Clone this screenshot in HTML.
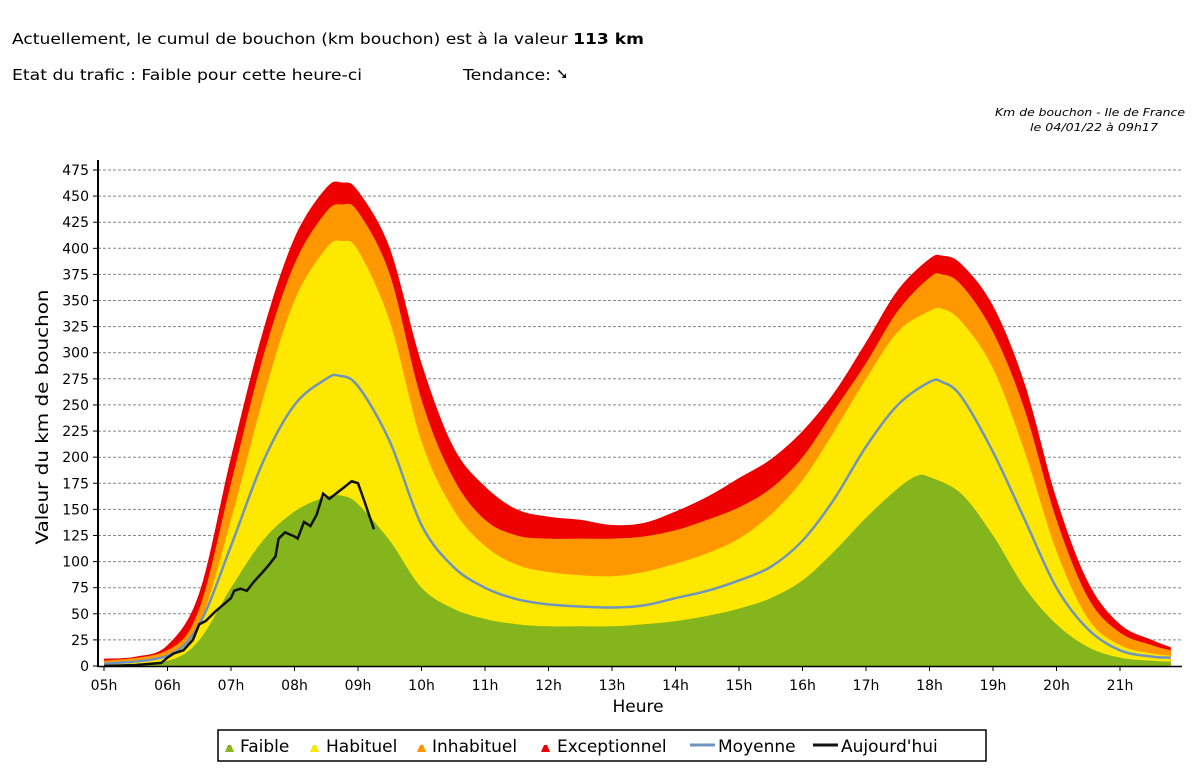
<!DOCTYPE html>
<html><head><meta charset="utf-8"><style>
html,body{margin:0;padding:0;background:#fff;}
svg{display:block;font-family:"DejaVu Sans","Liberation Sans",sans-serif;}
</style></head><body>
<svg id="s" width="1200" height="773" viewBox="0 0 1200 773" xmlns="http://www.w3.org/2000/svg">
<text x="12" y="44" font-size="15" textLength="632" lengthAdjust="spacingAndGlyphs">Actuellement, le cumul de bouchon (km bouchon) est à la valeur <tspan font-weight="bold">113 km</tspan></text>
<text x="12" y="80" font-size="15" textLength="350" lengthAdjust="spacingAndGlyphs">Etat du trafic : Faible pour cette heure-ci</text>
<text x="463" y="80" font-size="15" textLength="88" lengthAdjust="spacingAndGlyphs">Tendance:</text>
<text x="556" y="79" font-size="15" font-weight="bold">➘</text>
<text x="1185" y="116" font-size="11" font-style="italic" text-anchor="end" textLength="190" lengthAdjust="spacingAndGlyphs">Km de bouchon - Ile de France</text>
<text x="1158" y="131" font-size="11" font-style="italic" text-anchor="end" textLength="128" lengthAdjust="spacingAndGlyphs">le 04/01/22 à 09h17</text>
<g id="grid"></g>
<g id="series"></g>
<g id="axes"></g>
<text x="638" y="712" font-size="17" text-anchor="middle">Heure</text>
<text transform="translate(48,417) rotate(-90)" font-size="17" text-anchor="middle" textLength="255" lengthAdjust="spacingAndGlyphs">Valeur du  km de bouchon</text>
<rect x="218" y="730" width="768" height="31" fill="#fff" stroke="#000" stroke-width="1.5"/>
<g font-size="17">
<path d="M225 752 l3 -7 h3 l3 7z" fill="#84b51c"/><text x="240" y="752">Faible</text>
<path d="M310 752 l3 -7 h3 l3 7z" fill="#ffe800"/><text x="326" y="752">Habituel</text>
<path d="M417 752 l3 -7 h3 l3 7z" fill="#ff9800"/><text x="432" y="752">Inhabituel</text>
<path d="M541 752 l3 -7 h3 l3 7z" fill="#ee0000"/><text x="557" y="752">Exceptionnel</text>
<line x1="690" y1="745" x2="715" y2="745" stroke="#6f94bf" stroke-width="3"/><text x="718" y="752">Moyenne</text>
<line x1="813" y1="745" x2="838" y2="745" stroke="#111" stroke-width="3"/><text x="841" y="752">Aujourd'hui</text>
</g>
</svg>
<script>
var X=function(t){return 104+(t-5)*63.5;}, Y=function(v){return 666-v*1.0442;};
function P(s){return s.trim().split(/\s+/).map(function(p){var a=p.split(':');return [X(+a[0]),Y(+a[1])];});}
function smooth(pts){var d='M'+pts[0][0].toFixed(1)+' '+pts[0][1].toFixed(1);
for(var i=0;i<pts.length-1;i++){var p0=pts[Math.max(0,i-1)],p1=pts[i],p2=pts[i+1],p3=pts[Math.min(pts.length-1,i+2)];
var c1=[p1[0]+(p2[0]-p0[0])/6,p1[1]+(p2[1]-p0[1])/6],c2=[p2[0]-(p3[0]-p1[0])/6,p2[1]-(p3[1]-p1[1])/6];
d+=' C'+c1[0].toFixed(1)+' '+c1[1].toFixed(1)+' '+c2[0].toFixed(1)+' '+c2[1].toFixed(1)+' '+p2[0].toFixed(1)+' '+p2[1].toFixed(1);}return d;}
var red=P("5:7 5.5:9 6:20 6.5:70 7:200 7.5:320 8:410 8.5:458 8.75:463 9:455 9.5:400 10:290 10.5:210 11:172 11.5:150 12:143 12.5:140 13:135 13.5:137 14:148 14.5:162 15:180 15.5:198 16:225 16.5:262 17:310 17.5:360 18:390 18.2:393 18.5:385 19:345 19.5:270 20:160 20.5:80 21:40 21.5:25 21.8:18");
var ora=P("5:5 6:15 6.5:55 7:175 7.5:295 8:385 8.5:435 8.75:442 9:435 9.5:375 10:255 10.5:180 11:140 11.5:125 12:122 12.5:122 13:122 13.5:124 14:130 14.5:140 15:152 15.5:170 16:200 16.5:245 17:290 17.5:340 18:372 18.2:375 18.5:365 19:320 19.5:245 20:140 20.5:65 21:32 21.5:20 21.8:15");
var yel=P("5:3 6:10 6.5:40 7:140 7.5:255 8:350 8.5:400 8.75:407 9:398 9.5:330 10:215 10.5:150 11:115 11.5:97 12:90 12.5:87 13:86 13.5:90 14:98 14.5:108 15:122 15.5:145 16:178 16.5:225 17:275 17.5:320 18:340 18.2:342 18.5:330 19:285 19.5:205 20:110 20.5:45 21:20 21.5:12 21.8:10");
var gre=P("5:1 6:5 6.5:25 7:75 7.5:120 8:148 8.5:162 8.75:163 9:155 9.5:120 10:75 10.5:55 11:45 11.5:40 12:38 12.5:38 13:38 13.5:40 14:43 14.5:48 15:55 15.5:65 16:82 16.5:110 17:142 17.5:170 17.8:182 18:181 18.5:165 19:125 19.5:75 20:40 20.5:18 21:8 21.5:5 21.8:4");
var moy=P("5:2 6:10 6.5:40 7:115 7.5:195 8:250 8.5:275 8.7:278 9:268 9.5:215 10:135 10.5:95 11:75 11.5:64 12:59 12.5:57 13:56 13.5:58 14:65 14.5:72 15:82 15.5:95 16:120 16.5:160 17:210 17.5:250 18:272 18.2:272 18.5:258 19:205 19.5:140 20:75 20.5:35 21:15 21.5:9 21.8:8");
var auj=P("5:0 5.5:1 5.9:3 6.0:8 6.1:12 6.25:15 6.4:25 6.5:40 6.6:43 6.75:52 7:65 7.05:72 7.15:74 7.25:72 7.35:80 7.5:90 7.6:97 7.7:105 7.75:122 7.85:128 8:124 8.05:122 8.15:138 8.25:134 8.35:145 8.45:165 8.55:160 8.65:165 8.8:172 8.9:177 9.0:175 9.1:158 9.2:140 9.25:131");
var base=' L'+X(21.8)+' 666 L'+X(5)+' 666 Z';
var h='';
h+='<path d="'+smooth(red)+base+'" fill="#ee0000"/>';
h+='<path d="'+smooth(ora)+base+'" fill="#ff9800"/>';
h+='<path d="'+smooth(yel)+base+'" fill="#ffe800"/>';
h+='<path d="'+smooth(gre)+base+'" fill="#84b51c"/>';
h+='<path d="'+smooth(moy)+'" fill="none" stroke="#6f94bf" stroke-width="2.5"/>';
h+='<path d="M'+auj.map(function(p){return p[0].toFixed(1)+' '+p[1].toFixed(1);}).join(' L')+'" fill="none" stroke="#111" stroke-width="2.5"/>';
document.getElementById('series').innerHTML=h;
var g='';
for(var v=0;v<=475;v+=25){var y=Y(v).toFixed(1);
 if(v>0)g+='<line x1="98" y1="'+y+'" x2="1182" y2="'+y+'" stroke="#888" stroke-dasharray="3,2" stroke-width="1"/>';
}
document.getElementById('grid').innerHTML=g;
var a='<line x1="98" y1="160" x2="98" y2="667" stroke="#000" stroke-width="2"/><line x1="97" y1="666.5" x2="1182" y2="666.5" stroke="#000" stroke-width="1.5"/>';
for(var v=0;v<=475;v+=25){var y=Y(v);a+='<line x1="93" y1="'+y+'" x2="98" y2="'+y+'" stroke="#000"/><text x="89" y="'+(y+5)+'" font-size="14" text-anchor="end">'+v+'</text>';}
for(var t=5;t<=21;t++){var x=X(t);a+='<line x1="'+x+'" y1="666" x2="'+x+'" y2="671" stroke="#000"/><text x="'+x+'" y="690" font-size="14" text-anchor="middle">'+(t<10?'0':'')+t+'h</text>';}
document.getElementById('axes').innerHTML=a;
</script>
</body></html>
